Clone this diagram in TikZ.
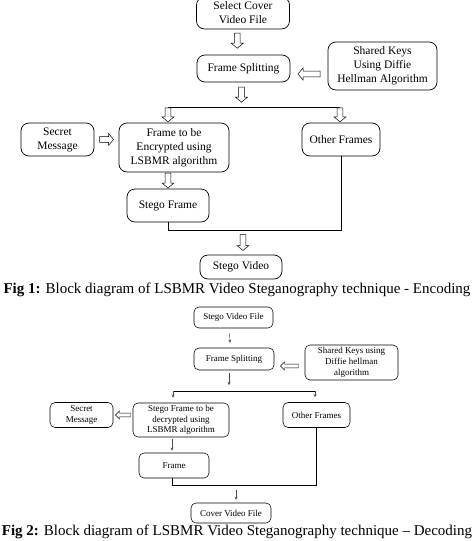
\documentclass[tikz,border=0pt]{standalone}
\usepackage{fontspec}
\setmainfont{Liberation Serif}
\usetikzlibrary{arrows.meta}

\tikzset{
  pics/harr/.style={code={
    \draw[fill=white,line width=0.5pt] ({-#1/2},-2.8) -- ({#1/2-5},-2.8) -- ({#1/2-5},-6)
      -- ({#1/2},0) -- ({#1/2-5},6) -- ({#1/2-5},2.8) -- ({-#1/2},2.8) -- cycle;}},
  pics/sharr/.style={code={
    \draw[fill=white,line width=0.45pt] ({-#1/2},-1.8) -- ({#1/2-4},-1.8) -- ({#1/2-4},-4)
      -- ({#1/2},0) -- ({#1/2-4},4) -- ({#1/2-4},1.8) -- ({-#1/2},1.8) -- cycle;}}
}

\begin{document}
\begin{tikzpicture}[x=1pt,y=-1pt,line width=0.7pt,
  blk/.style={draw,rounded corners=8pt,align=center,inner sep=2pt,
    font=\fontsize{11.5}{14}\selectfont},
  sblk/.style={draw,rounded corners=5pt,align=center,inner sep=1pt,line width=0.55pt,
    font=\fontsize{9}{10.7}\selectfont},
  thin/.style={line width=0.45pt,draw=black!70,-{Stealth[length=3pt,width=3pt]}}]
  \useasboundingbox (0,0) rectangle (474,541);
  % encoding
  \node[blk,minimum width=93pt,minimum height=32pt] (selcover) at (243,13) {Select Cover\\Video File};
  \node[blk,minimum width=93pt,minimum height=27pt] (split1) at (243.5,68.5) {Frame Splitting};
  \node[blk,minimum width=109pt,minimum height=48pt] (keys1) at (382.5,66) {Shared Keys\\Using Diffie\\Hellman Algorithm};
  \node[blk,minimum width=73pt,minimum height=33pt] (secret1) at (57.5,139.5) {Secret\\Message};
  \node[blk,minimum width=110pt,minimum height=49pt] (enc1) at (174,147.5) {Frame to be\\Encrypted using\\LSBMR algorithm};
  \node[blk,minimum width=78pt,minimum height=33pt] (other1) at (341,139.5) {Other Frames};
  \node[blk,minimum width=82pt,minimum height=33pt] (sframe1) at (168,205.5) {Stego Frame};
  \node[blk,minimum width=82pt,minimum height=24pt] (svideo1) at (241,267) {Stego Video};
  \coordinate (br1l) at (168,107);
  \coordinate (br1r) at (340,107);
  \path ([xshift=-6pt]selcover.south) -- coordinate[pos=0.45] (a1) ([xshift=-6pt]split1.north);
  \pic[rotate=-90] at (a1) {harr=15};
  \path (keys1.west |- 0,74) -- coordinate (a2) (split1.east |- 0,74);
  \pic[rotate=180] at (a2) {harr=22};
  \path ([xshift=-2pt]split1.south) -- coordinate (a3) ([xshift=-2pt]split1.south |- br1l);
  \pic[rotate=-90] at (a3) {harr=15};
  \draw (br1l) -- (br1r);
  \path (br1l) -- coordinate (a4) (br1l |- enc1.north);
  \pic[rotate=-90] at (a4) {harr=14};
  \path (br1r) -- coordinate (a5) (br1r |- other1.north);
  \pic[rotate=-90] at (a5) {harr=14};
  \path (secret1.east) -- coordinate (a6) (secret1 -| enc1.west);
  \pic at (a6) {harr=14};
  \path (enc1.south -| sframe1) -- coordinate (a7) (sframe1.north);
  \pic[rotate=-90] at (a7) {harr=15};
  \draw (sframe1.south) -- ++(0,8) coordinate (mg1) -| (other1.south);
  \path (mg1 -| 243,0) -- coordinate (a8) (svideo1.north -| 243,0);
  \pic[rotate=-90] at (a8) {harr=16};
  \node[font=\fontsize{15}{17}\selectfont] (cap1) at (237,290) {\textbf{Fig 1:} Block diagram of LSBMR Video Steganography technique - Encoding};
  % decoding
  \node[sblk,minimum width=79pt,minimum height=21pt] (svf2) at (233.5,317.5) {Stego Video File};
  \node[sblk,minimum width=80pt,minimum height=22pt] (split2) at (234,359) {Frame Splitting};
  \node[sblk,minimum width=93pt,minimum height=35pt] (keys2) at (351.5,362.5) {Shared Keys using\\Diffie hellman\\algorithm};
  \node[sblk,minimum width=63pt,minimum height=25pt] (secret2) at (81.5,415) {Secret\\Message};
  \node[sblk,minimum width=96pt,minimum height=34pt] (dec2) at (181,420) {Stego Frame to be\\decrypted using\\LSBMR algorithm};
  \node[sblk,minimum width=67pt,minimum height=25pt] (other2) at (316.5,415) {Other Frames};
  \node[sblk,minimum width=70pt,minimum height=25pt] (frame2) at (174,465.5) {Frame};
  \node[sblk,minimum width=80pt,minimum height=20pt] (cvf2) at (231,513) {Cover Video File};
  \coordinate (br2l) at (173,391);
  \coordinate (br2r) at (315,391);
  \draw[thin,shorten <=5pt,shorten >=5pt] ([xshift=-4pt]svf2.south) -- ([xshift=-4pt]split2.north);
  \path (keys2.west |- 0,366) -- coordinate (b1) (split2.east |- 0,366);
  \pic[rotate=180] at (b1) {sharr=18};
  \draw[thin,shorten <=3pt,shorten >=6pt] ([xshift=-5pt]split2.south) -- ([xshift=-5pt]split2.south |- br2l);
  \draw[line width=0.55pt] (br2l) -- (br2r);
  \draw[thin,shorten >=5pt] (br2l) -- (br2l |- dec2.north);
  \draw[thin,shorten >=5pt] (br2r) -- (br2r |- other2.north);
  \path (dec2.west |- secret2) -- coordinate (b2) (secret2.east);
  \pic[rotate=180] at (b2) {sharr=15};
  \draw[thin,shorten <=2pt,shorten >=2pt] (dec2.south -| 172,0) -- (frame2.north -| 172,0);
  \draw[line width=0.55pt] (frame2.south -| 172,0) -- ++(0,7) coordinate (mg2) -| (other2.south);
  \draw[thin,shorten <=5pt,shorten >=3pt] (mg2 -| 236,0) -- (cvf2.north -| 236,0);
  \node[font=\fontsize{15}{17}\selectfont] (cap2) at (237,532) {\textbf{Fig 2:} Block diagram of LSBMR Video Steganography technique -- Decoding};
\end{tikzpicture}
\end{document}
